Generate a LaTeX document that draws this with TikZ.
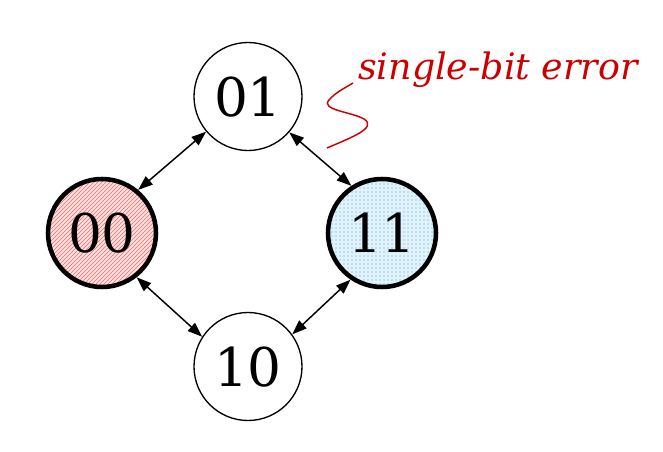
\documentclass[tikz,border=0pt]{standalone}
\usepackage{fontspec}
\setmainfont{DejaVu Serif}
\usetikzlibrary{patterns,arrows.meta}
\definecolor{errred}{RGB}{204,0,0}
\definecolor{pinkbg}{RGB}{252,225,225}
\definecolor{bluebg}{RGB}{225,242,250}
\definecolor{dotblue}{RGB}{60,170,220}
\definecolor{hatchred}{RGB}{235,110,110}
\begin{document}
\begin{tikzpicture}[x=0.75pt,y=-0.75pt,
  state/.style={circle,draw,minimum size=81pt,inner sep=0pt,font=\fontsize{40}{40}\selectfont,text depth=-3pt},
  thinstate/.style={state,line width=1pt},
  thickstate/.style={state,line width=3.4pt},
  link/.style={{Triangle[length=11pt,width=8pt]}-{Triangle[length=11pt,width=8pt]},line width=1.1pt}]
\useasboundingbox (0,0) rectangle (663,452);
\node[thinstate] (n01) at (248,96.5) {01};
\node[thickstate,preaction={fill=pinkbg},pattern=north east lines,pattern color=hatchred] (n00) at (102,233) {00};
\node[thickstate,preaction={fill=bluebg},pattern=dots,pattern color=dotblue] (n11) at (382,233) {11};
\node[thinstate] (n10) at (248,366.5) {10};
\draw[link] (n01.220) -- (n00.50);
\draw[link] (n01.319) -- (n11.123);
\draw[link] (n00.308) -- (n10.147);
\draw[link] (n11.236) -- (n10.36);
\coordinate (sq) at (327,148);
\draw[errred,line width=1.1pt] (sq) .. controls (350,138) and (378,128) .. (364,119)
  .. controls (352,112) and (320,110) .. (329,100)
  .. controls (336,92) and (345,88) .. (353,83);
\node[errred,anchor=base west,inner sep=0pt,font=\fontsize{27.3}{27.3}\selectfont\itshape] (lbl) at (358,80) {single-bit error};
\end{tikzpicture}
\end{document}
